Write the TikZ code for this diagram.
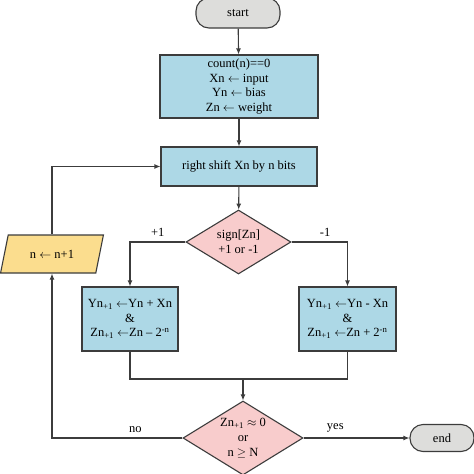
\documentclass[tikz,border=0pt]{standalone}
\usepackage{fontspec}
\setmainfont{Liberation Serif}
\usetikzlibrary{shapes.geometric, arrows.meta}

\definecolor{boxblue}{RGB}{173,216,230}
\definecolor{decpink}{RGB}{248,204,204}
\definecolor{ioyellow}{RGB}{251,221,142}
\definecolor{termgray}{RGB}{221,221,219}
\definecolor{linegray}{RGB}{60,60,60}

\begin{document}
\begin{tikzpicture}
        [x=1pt, y=-1pt, >={Latex[length=6pt,width=5pt]}, color=linegray,
        every node/.style={font=\fontsize{12.5}{14.7}\selectfont, align=center, text=black},
        every path/.style={line width=1.1pt},
        proc/.style={draw, rectangle, fill=boxblue, inner sep=0},
        decide/.style={draw, diamond, fill=decpink, inner sep=0, aspect=1.62},
        term/.style={draw, rectangle, rounded corners=13pt, fill=termgray, inner sep=0},
        io/.style={draw, trapezium, trapezium left angle=65, trapezium right angle=115,
          trapezium stretches=true, fill=ioyellow, inner sep=0}]

        \useasboundingbox (0,0) rectangle (474,474);

        \node[term, minimum width=84pt, minimum height=30pt] (start) at (238, 13) {start};
        \node[proc, minimum width=158pt, minimum height=63pt] (init) at (239, 86.5)
          {count(n)==0\\ Xn $\leftarrow$ input\\ Yn $\leftarrow$ bias\\ Zn $\leftarrow$ weight};
        \node[proc, minimum width=156pt, minimum height=39pt] (shift) at (239, 166.5)
          {right shift Xn by n bits};
        \node[decide, minimum width=105pt, minimum height=64pt] (sign) at (238.5, 242)
          {sign[Zn]\\ +1 or -1};
        \node[proc, minimum width=96pt, minimum height=64pt] (add) at (130, 319)
          {Yn\textsubscript{+1} $\leftarrow$Yn + Xn\\ \&\\ Zn\textsubscript{+1} $\leftarrow$Zn -- 2\textsuperscript{-n}};
        \node[proc, minimum width=97pt, minimum height=64pt] (sub) at (347.5, 319)
          {Yn\textsubscript{+1} $\leftarrow$Yn - Xn\\ \&\\ Zn\textsubscript{+1} $\leftarrow$Zn + 2\textsuperscript{-n}};
        \coordinate (merge) at (243, 379);
        \node[decide, minimum width=120pt, minimum height=74pt] (check) at (243, 438)
          {Zn\textsubscript{+1} $\approx$ 0\\ or\\ n $\geq$ N};
        \node[term, minimum width=64pt, minimum height=27pt] (stop) at (442, 438) {end};
        \node[io, minimum width=103pt, minimum height=38pt] (incr) at (52, 254)
          {n $\leftarrow$ n+1};

        \draw[->] (start) -- (init);
        \draw[->] (init) -- (shift);
        \draw[->] (shift) -- (sign);
        \draw[->] (sign.west) -| node[pos=0.25, above=2pt] {+1} (add.north);
        \draw[->] (sign.east) -| node[pos=0.3, above=2pt] {-1} (sub.north);
        \draw (add.south) -- (add.south |- merge) -- (sub.south |- merge) -- (sub.south);
        \draw[->] (merge) -- (check.north);
        \draw[->] (check.east) -- node[pos=0.3, above=2pt] {yes} (stop.west);
        \draw[->] (check.west) -| node[pos=0.18, above=2pt] {no} (incr.south);
        \draw[->] (incr.north) |- (shift.west);

      \end{tikzpicture}
\end{document}
